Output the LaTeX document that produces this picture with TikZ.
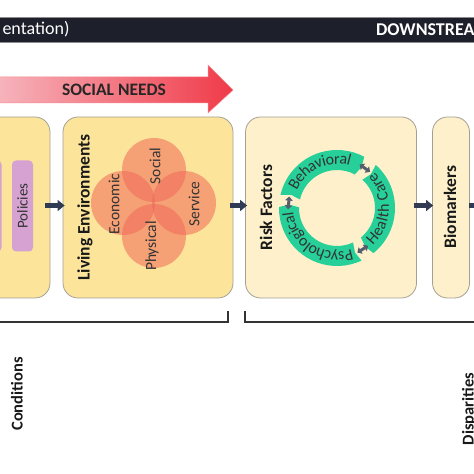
\documentclass[tikz,border=0pt]{standalone}
\usepackage{fontspec}
\setmainfont{Carlito}
\usetikzlibrary{arrows.meta,decorations.text}
\definecolor{bandnavy}{RGB}{29,32,43}
\definecolor{boxyellow}{RGB}{252,229,154}
\definecolor{boxcream}{RGB}{253,240,202}
\definecolor{boxline}{RGB}{165,160,150}
\definecolor{policypink}{RGB}{214,162,210}
\definecolor{envred}{RGB}{240,105,88}
\definecolor{riskgreen}{RGB}{38,208,152}
\definecolor{flownavy}{RGB}{48,58,82}
\definecolor{gapgray}{RGB}{85,92,108}
\definecolor{needpink}{RGB}{246,180,188}
\definecolor{needred}{RGB}{240,58,72}
\newcommand{\fs}[1]{\fontsize{#1}{#1}\selectfont}
\begin{document}
\begin{tikzpicture}[x=1pt,y=1pt,
    box/.style={rectangle,draw=boxline,line width=0.8pt,rounded corners=15pt,minimum height=181pt,inner sep=0pt},
    boxlabel/.style={rotate=90,font=\fs{17.5}\bfseries,text=black!90},
    envlabel/.style={rotate=90,font=\fs{15.5},text=black!80},
    flow/.style={-{Triangle[length=7pt,width=11pt]},line width=4.5pt,draw=flownavy},
    gaparrow/.style={{Triangle[length=4pt,width=7.5pt]}-{Triangle[length=4pt,width=7.5pt]},line width=3pt,draw=gapgray},
    ringtext/.style={decorate,decoration={text along path,text align=center,raise=-4pt}},
    bracket/.style={draw=black!80,line width=1.4pt}]
    \useasboundingbox (0,0) rectangle (474,474);
    % top band
    \node[rectangle,fill=bandnavy,draw=black!45,minimum width=484pt,minimum height=25pt] (band) at (237,444.5) {};
    \node[anchor=west,text=white,font=\fs{18}] (upleft) at (-1,444.5) {entation)};
    \node[anchor=east,text=white,font=\fs{18}\bfseries] (downright) at (478,444.5) {DOWNSTREA};
    % social needs arrow
    \shade[left color=needpink,right color=needred,draw=needred!60!white,line width=0.5pt]
        (-2,371) -- (208,371) -- (208,361) -- (233,384) -- (208,409) -- (208,397) -- (-2,397) -- cycle;
    \node[font=\fs{17.5}\bfseries,text=black!85] (needs) at (114,384) {SOCIAL NEEDS};
    % boxes
    \node[box,fill=boxyellow,minimum width=76pt] (orgs) at (12,266.5) {};
    \node[box,fill=boxyellow,minimum width=170pt] (living) at (148,266.5) {};
    \node[box,fill=boxcream,minimum width=171pt] (risk) at (331,266.5) {};
    \node[box,fill=boxcream,minimum width=37pt] (bio) at (451,266.5) {};
    \node[rectangle,rounded corners=4pt,fill=policypink,minimum width=27pt,minimum height=91pt] (orgsrect) at (-12,268) {};
    \node[rectangle,rounded corners=4pt,fill=policypink,minimum width=21pt,minimum height=91pt] (policies) at (22.5,268) {};
    \node[rotate=90,font=\fs{15},text=black!80] (policieslbl) at (policies) {Policies};
    % living environments
    \node[boxlabel] (livinglbl) at (85,266.5) {Living Environments};
    \foreach \n/\x/\y in {social/154/304,econ/123/271,serv/184/271,phys/154/238}
        \node[circle,fill=envred,fill opacity=0.55,minimum size=64pt,inner sep=0pt] (\n) at (\x,\y) {};
    \node[envlabel] (econlbl) at (114,270) {Economic};
    \node[envlabel] (sociallbl) at (155,308) {Social};
    \node[envlabel] (servlbl) at (194,270) {Service};
    \node[envlabel] (physlbl) at (152,228) {Physical};
    % risk factors
    \node[boxlabel] (risklbl) at (266,266.5) {Risk Factors};
    \coordinate (ring) at (337,266);
    \begin{scope}[shift={(ring)}]
        \foreach \a/\b in {167/62,48/-51,-65/-181}
            \fill[riskgreen] (\a:58pt) arc[start angle=\a,end angle=\b,radius=58pt] -- (\b-3:48pt) -- (\b:38pt)
                arc[start angle=\b,end angle=\a,radius=38pt] -- (\a-3:48pt) -- cycle;
        \path[ringtext,decoration={text={|\fs{16}\color{black!80}|Behavioral}}] (167:48pt) arc[start angle=167,end angle=62,radius=48pt];
        \path[ringtext,decoration={text={|\fs{16}\color{black!80}|Health Care}}] (-51:48pt) arc[start angle=-51,end angle=48,radius=48pt];
        \path[ringtext,decoration={text={|\fs{16}\color{black!80}|Psychological}}] (-65:48pt) arc[start angle=-65,end angle=-181,radius=48pt];
        \foreach \g [count=\i] in {55,-58,174} {
            \coordinate (gap\i a) at (\g+7.5:49pt);
            \coordinate (gap\i b) at (\g-7.5:49pt);
            \draw[gaparrow] (gap\i a) -- (gap\i b);
        }
    \end{scope}
    % biomarkers
    \node[boxlabel] (biolbl) at (450,267) {Biomarkers};
    \coordinate (offright) at (488,268.5);
    % flow arrows
    \draw[flow] ([xshift=-5pt,yshift=2pt]orgs.east) -- ([xshift=2pt,yshift=2pt]living.west);
    \draw[flow] ([xshift=-3pt,yshift=2pt]living.east) -- ([xshift=2pt,yshift=2pt]risk.west);
    \draw[flow] ([xshift=-3pt,yshift=2pt]risk.east) -- ([xshift=1pt,yshift=2pt]bio.west);
    \draw[flow] ([xshift=-1pt,yshift=2pt]bio.east) -- (offright);
    % brackets
    \draw[bracket] (-2,152) -| (228,163);
    \draw[bracket] (245,163) |- (476,152);
    \node[rotate=90,font=\fs{16.5}\bfseries,text=black!90] (condlbl) at (17,80) {Conditions};
    \node[rotate=90,font=\fs{16.5}\bfseries,text=black!90] (displbl) at (469,65) {Disparities};
\end{tikzpicture}
\end{document}
